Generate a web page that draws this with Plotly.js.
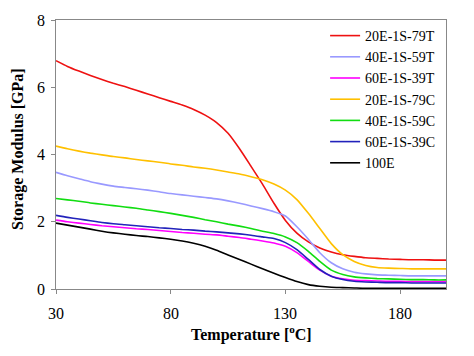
<!DOCTYPE html>
<html>
<head>
<meta charset="utf-8">
<script src="https://cdn.plot.ly/plotly-3.0.1.min.js"></script>
<style>html,body{margin:0;padding:0;background:#fff;}#chart{width:474px;height:356px;}</style>
</head>
<body>
<div id="chart"></div>
<script>
const temperature = [30,35,40,45,50,55,60,65,70,75,80,85,90,95,100,105,110,115,120,125,130,135,140,145,150,155,160,165,170,175,180,185,190,195,200];
const seriesNames = ["20E-1S-79T","40E-1S-59T","60E-1S-39T","20E-1S-79C","40E-1S-59C","60E-1S-39C","100E"];
const s20E79T = [6.79,6.62,6.48,6.35,6.23,6.12,6.02,5.91,5.80,5.69,5.58,5.47,5.34,5.17,4.95,4.63,4.17,3.65,3.12,2.55,2.04,1.66,1.40,1.22,1.10,1.02,0.97,0.93,0.91,0.89,0.88,0.87,0.87,0.86,0.86];
const s40E59T = [3.47,3.37,3.28,3.19,3.12,3.06,3.02,2.98,2.94,2.89,2.84,2.80,2.76,2.72,2.68,2.62,2.55,2.47,2.39,2.30,2.17,1.85,1.48,1.08,0.78,0.60,0.50,0.45,0.42,0.41,0.40,0.39,0.39,0.39,0.39];
const s60E39T = [2.05,2.00,1.96,1.92,1.88,1.85,1.82,1.79,1.77,1.74,1.71,1.68,1.66,1.63,1.61,1.57,1.53,1.48,1.43,1.37,1.27,1.08,0.82,0.56,0.38,0.30,0.26,0.25,0.24,0.23,0.23,0.22,0.22,0.22,0.22];
const s20E79C = [4.25,4.17,4.10,4.04,3.99,3.94,3.90,3.85,3.81,3.77,3.72,3.68,3.63,3.59,3.54,3.48,3.42,3.34,3.25,3.12,2.94,2.66,2.25,1.80,1.35,1.02,0.82,0.70,0.64,0.62,0.61,0.60,0.60,0.60,0.60];
const s40E59C = [2.69,2.65,2.61,2.56,2.52,2.48,2.44,2.40,2.35,2.30,2.25,2.19,2.13,2.06,2.00,1.93,1.87,1.80,1.72,1.65,1.55,1.38,1.12,0.82,0.56,0.43,0.36,0.33,0.31,0.30,0.29,0.28,0.28,0.27,0.27];
const s60E39C = [2.19,2.13,2.08,2.03,1.98,1.94,1.91,1.88,1.85,1.82,1.80,1.77,1.75,1.72,1.70,1.67,1.64,1.60,1.55,1.50,1.38,1.17,0.88,0.58,0.38,0.28,0.23,0.21,0.20,0.19,0.19,0.18,0.18,0.18,0.18];
const s100E   = [1.96,1.90,1.84,1.78,1.72,1.67,1.63,1.59,1.56,1.52,1.48,1.43,1.36,1.27,1.15,1.01,0.88,0.74,0.60,0.47,0.34,0.22,0.13,0.08,0.05,0.04,0.03,0.02,0.02,0.02,0.02,0.02,0.02,0.02,0.02];
const xTicks = [30,80,130,180];
const yTicks = [0,2,4,6,8];
const xTitle = 'Temperature [<sup>o</sup>C]';
const yTitle = 'Storage Modulus [GPa]';

const seriesValues = [s20E79T,s40E59T,s60E39T,s20E79C,s40E59C,s60E39C,s100E];
const colors = ["#ee1111","#9999ff","#ff00ff","#ffc000","#11dd11","#2222bb","#000000"];

const traces = seriesNames.map((n,i)=>({
  x: temperature, y: seriesValues[i], name: n, type: 'scatter', mode: 'lines',
  line: {color: colors[i], width: 1.6, shape: 'spline', smoothing: 0.6}
}));

const FAM = 'Liberation Serif';
const tickFont = {family: FAM, size: 16, color: '#000'};
const annotations = [];
xTicks.forEach(v => annotations.push({xref: 'x', yref: 'paper', x: v, y: 0, text: String(v), showarrow: false,
  xanchor: 'center', yanchor: 'middle', yshift: -24, font: tickFont}));
yTicks.forEach(v => annotations.push({xref: 'paper', yref: 'y', x: 0, y: v, text: String(v), showarrow: false,
  xanchor: 'right', yanchor: 'middle', xshift: -9, font: tickFont}));
annotations.push({xref: 'paper', yref: 'paper', x: 0.5, y: 0, text: '<b>' + xTitle + '</b>', showarrow: false,
  xanchor: 'center', yanchor: 'middle', yshift: -44, font: {family: FAM, size: 16, color: '#000'}});
annotations.push({xref: 'paper', yref: 'paper', x: 0, y: 0.52, text: '<b>' + yTitle + '</b>', showarrow: false,
  textangle: -90, xanchor: 'center', yanchor: 'middle', xshift: -38, font: {family: FAM, size: 16, color: '#000'}});

const layout = {
  width: 474, height: 356,
  margin: {l: 56, r: 28, t: 20, b: 67},
  paper_bgcolor: '#fff', plot_bgcolor: '#fff',
  font: {family: FAM, color: '#000', size: 16},
  showlegend: true,
  legend: {x: 0.69, y: 1.0, xanchor: 'left', yanchor: 'top', bgcolor: 'rgba(0,0,0,0)',
           font: {family: FAM, size: 14, color: '#000'}, tracegroupgap: 0},
  xaxis: {range: [30,200], tickvals: xTicks, showticklabels: false, showgrid: false, zeroline: false,
          showline: true, linecolor: '#888', linewidth: 1, mirror: true, automargin: false,
          ticks: 'outside', ticklen: 4, tickcolor: '#888'},
  yaxis: {range: [0,8], tickvals: yTicks, showticklabels: false, showgrid: false, zeroline: false,
          showline: true, linecolor: '#888', linewidth: 1, mirror: true, automargin: false,
          ticks: 'outside', ticklen: 4, tickcolor: '#888'},
  annotations: annotations
};
Plotly.newPlot('chart', traces, layout, {displayModeBar: false});
</script>
</body>
</html>
